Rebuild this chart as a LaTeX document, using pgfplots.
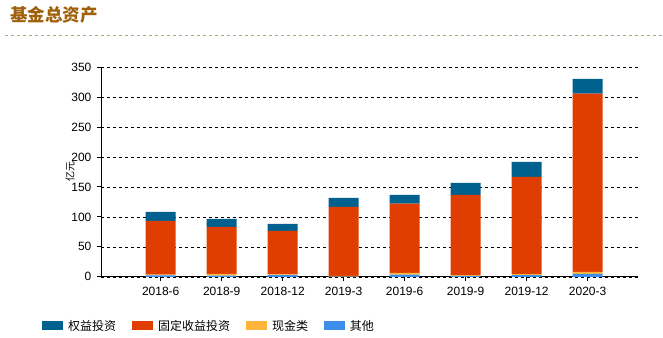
\documentclass[border=0pt]{standalone}
\usepackage{pgfplots}
\pgfplotsset{compat=1.18}
\usepackage{pgfplotstable}
\usepackage{fontspec}
\setmainfont{Liberation Sans}
\newfontfamily\cjk{Noto Sans CJK SC}
\definecolor{eqc}{RGB}{0,96,142}
\definecolor{fixc}{RGB}{224,62,0}
\definecolor{cashc}{RGB}{255,181,59}
\definecolor{othc}{RGB}{60,142,234}
\definecolor{titc}{RGB}{160,96,10}
\definecolor{dashc}{RGB}{185,160,120}
\pgfplotstableread{
x other cash fixed equity
0 2.5 1.2 89.6 15.0
1 2.0 3.0 78.3 13.4
2 3.0 1.0 72.7 11.6
3 0.5 1.2 115.0 15.0
4 3.5 3.3 115.4 14.5
5 1.5 1.5 133.7 20.0
6 3.0 1.7 162.0 25.0
7 5.0 3.3 297.2 24.5
}\datatable
\begin{document}
\begin{tikzpicture}
\path (0pt,0pt) rectangle (663pt,338pt);
\node[anchor=west,text=titc,font=\cjk\bfseries\fontsize{17.5}{17.5}\selectfont,inner sep=0pt] at (10pt,323pt) {基金总资产};
\draw[dashc,dash pattern=on 3pt off 3pt,line width=0.8pt] (5pt,303pt) -- (663pt,303pt);
\begin{axis}[
  at={(101pt,61pt)}, anchor=south west,
  width=537pt, height=210pt, scale only axis,
  ybar stacked, bar width=30pt,
  xmin=-0.98, xmax=7.82,
  ymin=0, ymax=350,
  ytick={0,50,...,350},
  xtick=data,
  xticklabels={2018-6,2018-9,2018-12,2019-3,2019-6,2019-9,2019-12,2020-3},
  axis x line*=bottom, axis y line*=left,
  axis line style={black,line width=0.8pt},
  x axis line style={-}, y axis line style={-},
  tick style={black,line width=0.8pt},
  major tick length=4pt,
  xtick pos=bottom, ytick pos=left,
  tick align=outside,
  ymajorgrids,
  grid style={black,dashed,line width=0.6pt},
  ticklabel style={font=\fontsize{12}{12}\selectfont},
  xticklabel style={yshift=-3pt},
  yticklabel style={xshift=-2pt},
  /pgf/number format/assume math mode=true,
  ylabel={\cjk 亿元},
  ylabel style={font=\fontsize{12}{12}\selectfont},
  every axis y label/.style={at={(rel axis cs:-0.0577,0.5)},rotate=90,anchor=center},
  reverse legend,
  legend columns=4,
  legend style={at={(rel axis cs:-0.1155,-0.2333)},anchor=west,draw=none,fill=none,
    font=\cjk\fontsize{12}{12}\selectfont,
    /tikz/every odd column/.append style={column sep=3pt},
    /tikz/every even column/.append style={column sep=14pt}},
  legend image code/.code={\fill[#1] (0pt,-4.5pt) rectangle (21pt,4.5pt);},
]
\addplot[fill=othc,draw=none] table[x=x,y=other]{\datatable};
\addplot[fill=cashc,draw=none] table[x=x,y=cash]{\datatable};
\addplot[fill=fixc,draw=none] table[x=x,y=fixed]{\datatable};
\addplot[fill=eqc,draw=none] table[x=x,y=equity]{\datatable};
\legend{其他,现金类,固定收益投资,权益投资}
\end{axis}
\end{tikzpicture}
\end{document}
